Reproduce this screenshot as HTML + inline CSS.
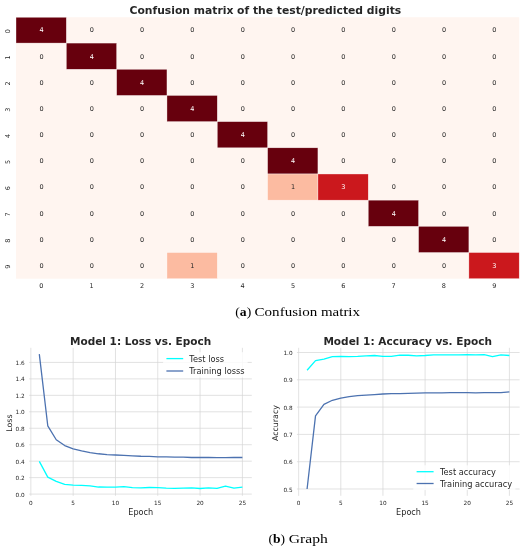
<!DOCTYPE html>
<html lang="en"><head><meta charset="utf-8"><title>Confusion matrix and graphs</title>
<style>html,body{margin:0;padding:0;background:#fff}body{width:526px;height:550px;overflow:hidden}svg{display:block}
text{font-family:"DejaVu Sans", "Liberation Sans", sans-serif}.cap{font-family:"Liberation Serif", "DejaVu Serif", serif}</style></head><body>
<svg width="526" height="550" viewBox="0 0 526 550">
<rect width="526" height="550" fill="#fff"/>
<rect x="16.00" y="17.25" width="503.20" height="261.45" fill="#fff5f0"/>
<rect x="16.00" y="17.25" width="50.32" height="25.83" fill="#67000d" stroke="#fff" stroke-width="0.5" stroke-opacity="0.7"/>
<rect x="66.32" y="43.08" width="50.32" height="26.18" fill="#67000d" stroke="#fff" stroke-width="0.5" stroke-opacity="0.7"/>
<rect x="116.64" y="69.26" width="50.32" height="26.18" fill="#67000d" stroke="#fff" stroke-width="0.5" stroke-opacity="0.7"/>
<rect x="166.96" y="95.44" width="50.32" height="26.18" fill="#67000d" stroke="#fff" stroke-width="0.5" stroke-opacity="0.7"/>
<rect x="217.28" y="121.62" width="50.32" height="26.18" fill="#67000d" stroke="#fff" stroke-width="0.5" stroke-opacity="0.7"/>
<rect x="267.60" y="147.80" width="50.32" height="26.18" fill="#67000d" stroke="#fff" stroke-width="0.5" stroke-opacity="0.7"/>
<rect x="267.60" y="173.98" width="50.32" height="26.18" fill="#fcbba1" stroke="#fff" stroke-width="0.5" stroke-opacity="0.7"/>
<rect x="317.92" y="173.98" width="50.32" height="26.18" fill="#cb181d" stroke="#fff" stroke-width="0.5" stroke-opacity="0.7"/>
<rect x="368.24" y="200.16" width="50.32" height="26.18" fill="#67000d" stroke="#fff" stroke-width="0.5" stroke-opacity="0.7"/>
<rect x="418.56" y="226.34" width="50.32" height="26.18" fill="#67000d" stroke="#fff" stroke-width="0.5" stroke-opacity="0.7"/>
<rect x="166.96" y="252.52" width="50.32" height="26.18" fill="#fcbba1" stroke="#fff" stroke-width="0.5" stroke-opacity="0.7"/>
<rect x="468.88" y="252.52" width="50.32" height="26.18" fill="#cb181d" stroke="#fff" stroke-width="0.5" stroke-opacity="0.7"/>
<g font-size="6.50" text-anchor="middle">
<text x="41.46" y="32.33" fill="#ffffff">4</text>
<text x="91.78" y="32.33" fill="#262626">0</text>
<text x="142.10" y="32.33" fill="#262626">0</text>
<text x="192.42" y="32.33" fill="#262626">0</text>
<text x="242.74" y="32.33" fill="#262626">0</text>
<text x="293.06" y="32.33" fill="#262626">0</text>
<text x="343.38" y="32.33" fill="#262626">0</text>
<text x="393.70" y="32.33" fill="#262626">0</text>
<text x="444.02" y="32.33" fill="#262626">0</text>
<text x="494.34" y="32.33" fill="#262626">0</text>
<text x="41.46" y="58.51" fill="#262626">0</text>
<text x="91.78" y="58.51" fill="#ffffff">4</text>
<text x="142.10" y="58.51" fill="#262626">0</text>
<text x="192.42" y="58.51" fill="#262626">0</text>
<text x="242.74" y="58.51" fill="#262626">0</text>
<text x="293.06" y="58.51" fill="#262626">0</text>
<text x="343.38" y="58.51" fill="#262626">0</text>
<text x="393.70" y="58.51" fill="#262626">0</text>
<text x="444.02" y="58.51" fill="#262626">0</text>
<text x="494.34" y="58.51" fill="#262626">0</text>
<text x="41.46" y="84.69" fill="#262626">0</text>
<text x="91.78" y="84.69" fill="#262626">0</text>
<text x="142.10" y="84.69" fill="#ffffff">4</text>
<text x="192.42" y="84.69" fill="#262626">0</text>
<text x="242.74" y="84.69" fill="#262626">0</text>
<text x="293.06" y="84.69" fill="#262626">0</text>
<text x="343.38" y="84.69" fill="#262626">0</text>
<text x="393.70" y="84.69" fill="#262626">0</text>
<text x="444.02" y="84.69" fill="#262626">0</text>
<text x="494.34" y="84.69" fill="#262626">0</text>
<text x="41.46" y="110.87" fill="#262626">0</text>
<text x="91.78" y="110.87" fill="#262626">0</text>
<text x="142.10" y="110.87" fill="#262626">0</text>
<text x="192.42" y="110.87" fill="#ffffff">4</text>
<text x="242.74" y="110.87" fill="#262626">0</text>
<text x="293.06" y="110.87" fill="#262626">0</text>
<text x="343.38" y="110.87" fill="#262626">0</text>
<text x="393.70" y="110.87" fill="#262626">0</text>
<text x="444.02" y="110.87" fill="#262626">0</text>
<text x="494.34" y="110.87" fill="#262626">0</text>
<text x="41.46" y="137.05" fill="#262626">0</text>
<text x="91.78" y="137.05" fill="#262626">0</text>
<text x="142.10" y="137.05" fill="#262626">0</text>
<text x="192.42" y="137.05" fill="#262626">0</text>
<text x="242.74" y="137.05" fill="#ffffff">4</text>
<text x="293.06" y="137.05" fill="#262626">0</text>
<text x="343.38" y="137.05" fill="#262626">0</text>
<text x="393.70" y="137.05" fill="#262626">0</text>
<text x="444.02" y="137.05" fill="#262626">0</text>
<text x="494.34" y="137.05" fill="#262626">0</text>
<text x="41.46" y="163.23" fill="#262626">0</text>
<text x="91.78" y="163.23" fill="#262626">0</text>
<text x="142.10" y="163.23" fill="#262626">0</text>
<text x="192.42" y="163.23" fill="#262626">0</text>
<text x="242.74" y="163.23" fill="#262626">0</text>
<text x="293.06" y="163.23" fill="#ffffff">4</text>
<text x="343.38" y="163.23" fill="#262626">0</text>
<text x="393.70" y="163.23" fill="#262626">0</text>
<text x="444.02" y="163.23" fill="#262626">0</text>
<text x="494.34" y="163.23" fill="#262626">0</text>
<text x="41.46" y="189.41" fill="#262626">0</text>
<text x="91.78" y="189.41" fill="#262626">0</text>
<text x="142.10" y="189.41" fill="#262626">0</text>
<text x="192.42" y="189.41" fill="#262626">0</text>
<text x="242.74" y="189.41" fill="#262626">0</text>
<text x="293.06" y="189.41" fill="#262626">1</text>
<text x="343.38" y="189.41" fill="#ffffff">3</text>
<text x="393.70" y="189.41" fill="#262626">0</text>
<text x="444.02" y="189.41" fill="#262626">0</text>
<text x="494.34" y="189.41" fill="#262626">0</text>
<text x="41.46" y="215.59" fill="#262626">0</text>
<text x="91.78" y="215.59" fill="#262626">0</text>
<text x="142.10" y="215.59" fill="#262626">0</text>
<text x="192.42" y="215.59" fill="#262626">0</text>
<text x="242.74" y="215.59" fill="#262626">0</text>
<text x="293.06" y="215.59" fill="#262626">0</text>
<text x="343.38" y="215.59" fill="#262626">0</text>
<text x="393.70" y="215.59" fill="#ffffff">4</text>
<text x="444.02" y="215.59" fill="#262626">0</text>
<text x="494.34" y="215.59" fill="#262626">0</text>
<text x="41.46" y="241.77" fill="#262626">0</text>
<text x="91.78" y="241.77" fill="#262626">0</text>
<text x="142.10" y="241.77" fill="#262626">0</text>
<text x="192.42" y="241.77" fill="#262626">0</text>
<text x="242.74" y="241.77" fill="#262626">0</text>
<text x="293.06" y="241.77" fill="#262626">0</text>
<text x="343.38" y="241.77" fill="#262626">0</text>
<text x="393.70" y="241.77" fill="#262626">0</text>
<text x="444.02" y="241.77" fill="#ffffff">4</text>
<text x="494.34" y="241.77" fill="#262626">0</text>
<text x="41.46" y="267.95" fill="#262626">0</text>
<text x="91.78" y="267.95" fill="#262626">0</text>
<text x="142.10" y="267.95" fill="#262626">0</text>
<text x="192.42" y="267.95" fill="#262626">1</text>
<text x="242.74" y="267.95" fill="#262626">0</text>
<text x="293.06" y="267.95" fill="#262626">0</text>
<text x="343.38" y="267.95" fill="#262626">0</text>
<text x="393.70" y="267.95" fill="#262626">0</text>
<text x="444.02" y="267.95" fill="#262626">0</text>
<text x="494.34" y="267.95" fill="#ffffff">3</text>
</g>
<g font-size="6.50" text-anchor="middle" fill="#262626">
<text x="41.36" y="288.04">0</text>
<text x="91.68" y="288.04">1</text>
<text x="142.00" y="288.04">2</text>
<text x="192.32" y="288.04">3</text>
<text x="242.64" y="288.04">4</text>
<text x="292.96" y="288.04">5</text>
<text x="343.28" y="288.04">6</text>
<text x="393.60" y="288.04">7</text>
<text x="443.92" y="288.04">8</text>
<text x="494.24" y="288.04">9</text>
<text transform="translate(7.90 31.14) rotate(-90)" x="0" y="2.34">0</text>
<text transform="translate(7.90 57.32) rotate(-90)" x="0" y="2.34">1</text>
<text transform="translate(7.90 83.50) rotate(-90)" x="0" y="2.34">2</text>
<text transform="translate(7.90 109.68) rotate(-90)" x="0" y="2.34">3</text>
<text transform="translate(7.90 135.86) rotate(-90)" x="0" y="2.34">4</text>
<text transform="translate(7.90 162.04) rotate(-90)" x="0" y="2.34">5</text>
<text transform="translate(7.90 188.22) rotate(-90)" x="0" y="2.34">6</text>
<text transform="translate(7.90 214.40) rotate(-90)" x="0" y="2.34">7</text>
<text transform="translate(7.90 240.58) rotate(-90)" x="0" y="2.34">8</text>
<text transform="translate(7.90 266.76) rotate(-90)" x="0" y="2.34">9</text>
</g>
<text x="129.5" y="13.7" font-size="10.75" font-weight="bold" textLength="271.7" lengthAdjust="spacingAndGlyphs" fill="#262626">Confusion matrix of the test/predicted digits</text>
<text class="cap" x="235.30" y="316.30" font-size="13.5" textLength="15.90" lengthAdjust="spacingAndGlyphs" fill="#000">(<tspan font-weight="bold">a</tspan>)</text>
<text class="cap" x="254.60" y="316.30" font-size="13.5" textLength="62.60" lengthAdjust="spacingAndGlyphs" fill="#000">Confusion</text>
<text class="cap" x="321.00" y="316.30" font-size="13.5" textLength="39.00" lengthAdjust="spacingAndGlyphs" fill="#000">matrix</text>
<g stroke="#d6d6d6" stroke-width="0.7" fill="none">
<line x1="30.85" y1="347.80" x2="30.85" y2="495.80"/>
<line x1="73.16" y1="347.80" x2="73.16" y2="495.80"/>
<line x1="115.47" y1="347.80" x2="115.47" y2="495.80"/>
<line x1="157.78" y1="347.80" x2="157.78" y2="495.80"/>
<line x1="200.09" y1="347.80" x2="200.09" y2="495.80"/>
<line x1="242.40" y1="347.80" x2="242.40" y2="495.80"/>
<line x1="29.15" y1="494.10" x2="251.80" y2="494.10"/>
<line x1="29.15" y1="477.64" x2="251.80" y2="477.64"/>
<line x1="29.15" y1="461.18" x2="251.80" y2="461.18"/>
<line x1="29.15" y1="444.72" x2="251.80" y2="444.72"/>
<line x1="29.15" y1="428.26" x2="251.80" y2="428.26"/>
<line x1="29.15" y1="411.80" x2="251.80" y2="411.80"/>
<line x1="29.15" y1="395.34" x2="251.80" y2="395.34"/>
<line x1="29.15" y1="378.88" x2="251.80" y2="378.88"/>
<line x1="29.15" y1="362.42" x2="251.80" y2="362.42"/>
</g>
<polyline points="39.31,461.43 47.77,477.15 56.24,481.43 64.70,484.39 73.16,485.13 81.62,485.38 90.08,485.87 98.55,487.02 107.01,487.10 115.47,487.10 123.93,486.53 132.39,487.68 140.86,487.93 149.32,487.52 157.78,487.68 166.24,488.17 174.70,488.34 183.17,488.17 191.63,487.93 200.09,488.50 208.55,487.93 217.01,488.34 225.48,486.12 233.94,488.17 242.40,487.10" fill="none" stroke="#00ffff" stroke-width="1.3" stroke-linejoin="round" stroke-linecap="butt"/>
<polyline points="39.31,354.19 47.77,425.79 56.24,439.78 64.70,445.54 73.16,448.84 81.62,450.89 90.08,452.54 98.55,453.77 107.01,454.60 115.47,455.01 123.93,455.42 132.39,455.83 140.86,456.24 149.32,456.41 157.78,456.82 166.24,456.82 174.70,457.07 183.17,457.07 191.63,457.48 200.09,457.48 208.55,457.48 217.01,457.56 225.48,457.64 233.94,457.48 242.40,457.48" fill="none" stroke="#4c72b0" stroke-width="1.3" stroke-linejoin="round" stroke-linecap="butt"/>
<g font-size="5.75" fill="#262626">
<text x="30.85" y="505.20" text-anchor="middle">0</text>
<text x="73.16" y="505.20" text-anchor="middle">5</text>
<text x="115.47" y="505.20" text-anchor="middle">10</text>
<text x="157.78" y="505.20" text-anchor="middle">15</text>
<text x="200.09" y="505.20" text-anchor="middle">20</text>
<text x="242.40" y="505.20" text-anchor="middle">25</text>
<text x="24.75" y="496.60" text-anchor="end">0.0</text>
<text x="24.75" y="480.14" text-anchor="end">0.2</text>
<text x="24.75" y="463.68" text-anchor="end">0.4</text>
<text x="24.75" y="447.22" text-anchor="end">0.6</text>
<text x="24.75" y="430.76" text-anchor="end">0.8</text>
<text x="24.75" y="414.30" text-anchor="end">1.0</text>
<text x="24.75" y="397.84" text-anchor="end">1.2</text>
<text x="24.75" y="381.38" text-anchor="end">1.4</text>
<text x="24.75" y="364.92" text-anchor="end">1.6</text>
</g>
<text x="70.00" y="344.8" font-size="10.65" font-weight="bold" textLength="141.20" lengthAdjust="spacingAndGlyphs" fill="#262626">Model 1: Loss vs. Epoch</text>
<text x="140.78" y="514.7" font-size="8.15" text-anchor="middle" fill="#262626">Epoch</text>
<text transform="translate(12.00 423.10) rotate(-90)" font-size="7.9" text-anchor="middle" fill="#262626">Loss</text>
<rect x="163.10" y="352.20" width="84.55" height="25.40" fill="#fff" fill-opacity="0.8"/>
<line x1="166.40" y1="358.60" x2="183.20" y2="358.60" stroke="#00ffff" stroke-width="1.3"/>
<text x="189.30" y="361.80" font-size="8.24" fill="#262626">Test loss</text>
<line x1="166.40" y1="371.00" x2="183.20" y2="371.00" stroke="#4c72b0" stroke-width="1.3"/>
<text x="189.30" y="374.20" font-size="8.24" fill="#262626">Training losss</text>
<g stroke="#d6d6d6" stroke-width="0.7" fill="none">
<line x1="298.65" y1="347.80" x2="298.65" y2="495.80"/>
<line x1="340.80" y1="347.80" x2="340.80" y2="495.80"/>
<line x1="382.95" y1="347.80" x2="382.95" y2="495.80"/>
<line x1="425.10" y1="347.80" x2="425.10" y2="495.80"/>
<line x1="467.25" y1="347.80" x2="467.25" y2="495.80"/>
<line x1="509.40" y1="347.80" x2="509.40" y2="495.80"/>
<line x1="296.95" y1="489.00" x2="519.60" y2="489.00"/>
<line x1="296.95" y1="461.70" x2="519.60" y2="461.70"/>
<line x1="296.95" y1="434.40" x2="519.60" y2="434.40"/>
<line x1="296.95" y1="407.10" x2="519.60" y2="407.10"/>
<line x1="296.95" y1="379.80" x2="519.60" y2="379.80"/>
<line x1="296.95" y1="352.50" x2="519.60" y2="352.50"/>
</g>
<polyline points="307.08,370.25 315.51,360.69 323.94,359.05 332.37,356.60 340.80,356.32 349.23,356.60 357.66,356.32 366.09,355.78 374.52,355.50 382.95,356.32 391.38,356.32 399.81,355.23 408.24,355.23 416.67,355.78 425.10,355.50 433.53,354.96 441.96,354.96 450.39,354.96 458.82,354.96 467.25,354.68 475.68,354.96 484.11,354.68 492.54,356.60 500.97,354.96 509.40,355.50" fill="none" stroke="#00ffff" stroke-width="1.3" stroke-linejoin="round" stroke-linecap="butt"/>
<polyline points="307.08,489.00 315.51,415.84 323.94,404.37 332.37,400.28 340.80,398.09 349.23,396.73 357.66,395.63 366.09,395.09 374.52,394.54 382.95,394.00 391.38,393.72 399.81,393.72 408.24,393.45 416.67,393.18 425.10,392.90 433.53,392.90 441.96,392.90 450.39,392.63 458.82,392.63 467.25,392.63 475.68,392.90 484.11,392.63 492.54,392.63 500.97,392.63 509.40,391.81" fill="none" stroke="#4c72b0" stroke-width="1.3" stroke-linejoin="round" stroke-linecap="butt"/>
<g font-size="5.75" fill="#262626">
<text x="298.65" y="505.20" text-anchor="middle">0</text>
<text x="340.80" y="505.20" text-anchor="middle">5</text>
<text x="382.95" y="505.20" text-anchor="middle">10</text>
<text x="425.10" y="505.20" text-anchor="middle">15</text>
<text x="467.25" y="505.20" text-anchor="middle">20</text>
<text x="509.40" y="505.20" text-anchor="middle">25</text>
<text x="292.55" y="491.50" text-anchor="end">0.5</text>
<text x="292.55" y="464.20" text-anchor="end">0.6</text>
<text x="292.55" y="436.90" text-anchor="end">0.7</text>
<text x="292.55" y="409.60" text-anchor="end">0.8</text>
<text x="292.55" y="382.30" text-anchor="end">0.9</text>
<text x="292.55" y="355.00" text-anchor="end">1.0</text>
</g>
<text x="323.40" y="344.8" font-size="10.65" font-weight="bold" textLength="168.60" lengthAdjust="spacingAndGlyphs" fill="#262626">Model 1: Accuracy vs. Epoch</text>
<text x="408.57" y="514.7" font-size="8.15" text-anchor="middle" fill="#262626">Epoch</text>
<text transform="translate(278.40 423.10) rotate(-90)" font-size="7.9" text-anchor="middle" fill="#262626">Accuracy</text>
<rect x="413.30" y="465.30" width="102.15" height="24.80" fill="#fff" fill-opacity="0.8"/>
<line x1="416.60" y1="471.70" x2="433.60" y2="471.70" stroke="#00ffff" stroke-width="1.3"/>
<text x="439.90" y="474.90" font-size="8.24" fill="#262626">Test accuracy</text>
<line x1="416.60" y1="483.50" x2="433.60" y2="483.50" stroke="#4c72b0" stroke-width="1.3"/>
<text x="439.90" y="486.70" font-size="8.24" fill="#262626">Training accuracy</text>
<text class="cap" x="268.40" y="542.60" font-size="13.5" textLength="16.60" lengthAdjust="spacingAndGlyphs" fill="#000">(<tspan font-weight="bold">b</tspan>)</text>
<text class="cap" x="288.80" y="542.60" font-size="13.5" textLength="39.00" lengthAdjust="spacingAndGlyphs" fill="#000">Graph</text>
</svg></body></html>
